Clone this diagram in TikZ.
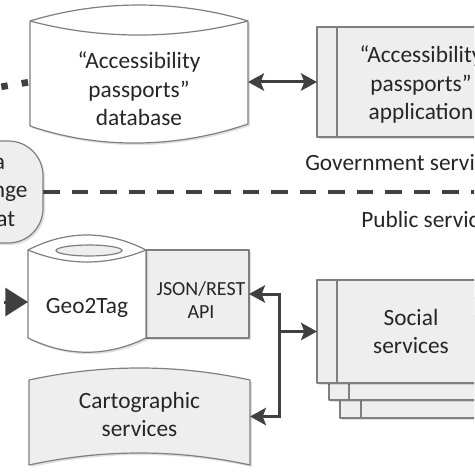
\documentclass[tikz,border=0pt]{standalone}
\usepackage{fontspec}
\setmainfont{Carlito}
\usetikzlibrary{arrows.meta,fit,shadows}
\definecolor{edge}{HTML}{7F7F7F}
\definecolor{boxfill}{HTML}{EEEEEE}
\definecolor{arrowc}{HTML}{404040}
\definecolor{txt}{HTML}{262626}
\begin{document}
\begin{tikzpicture}[x=0.75pt,y=-0.75pt,
  outline/.style={draw=edge, line width=0.9pt, line join=round},
  greybox/.style={outline, fill=boxfill},
  whitebox/.style={outline, fill=white},
  shade/.style={drop shadow={shadow xshift=1.5pt, shadow yshift=-1.5pt, fill=black, opacity=0.12}},
  region/.style={inner sep=0pt, outer sep=0pt, draw=none},
  big/.style={font=\fontsize{17.5pt}{21.4pt}\selectfont, text=txt, align=center, inner sep=0pt},
  smalltxt/.style={font=\fontsize{15pt}{17pt}\selectfont, text=txt, align=center, inner sep=0pt},
  arr/.style={draw=arrowc, line width=2.25pt, -{Stealth[length=12pt,width=13pt,inset=2.5pt]}},
  biarr/.style={draw=arrowc, line width=2.25pt, {Stealth[length=12pt,width=13pt,inset=2.5pt]}-{Stealth[length=12pt,width=13pt,inset=2.5pt]}},
  bigarr/.style={draw=arrowc, line width=2.25pt, -{Triangle[length=17pt,width=21pt]}},
  dotline/.style={draw=arrowc, line width=5pt, dash pattern=on 4.9pt off 10.5pt, shorten <=1.5pt},
  dashline/.style={draw=arrowc, line width=2.4pt, dash pattern=on 12.4pt off 9pt}
]
\useasboundingbox (0,0) rectangle (474,474);
\clip (0,0) rectangle (474,474);

% regions
\node[region, fit={(30,5) (248,143)}] (db) {};
\node[region, fit={(317,27) (505,137)}] (app) {};
\node[region, fit={(-100,141) (43,243)}] (fmt) {};
\node[region, fit={(28,235) (146,352)}] (geo) {};
\node[region, fit={(146,250) (249,338)}] (api) {};
\node[region, fit={(29,368) (250,465)}] (carto) {};
\node[region, fit={(317,280) (505,383)}] (social) {};

% data exchange format
\draw[greybox, shade, rounded corners=26pt] (-100,141) rectangle (43,243);

% database cylinder
\path[whitebox, shade] (30,21) -- (30,126) .. controls (100,150) and (178,148) .. (248,124) -- (248,21) .. controls (178,-0.3) and (100,-0.3) .. (30,21) -- cycle;
\draw[outline] (30,21) .. controls (100,39.7) and (178,39.7) .. (248,21);

% application
\draw[greybox, shade] (317,27) rectangle (505,137);
\draw[outline] (337,27) -- (337,137);

% social stack
\draw[greybox, shade] (340,316) rectangle (505,418);
\draw[outline] (361,316) -- (361,418);
\draw[greybox, shade] (329,298) rectangle (505,400);
\draw[outline] (349,298) -- (349,400);
\draw[greybox, shade] (317,280) rectangle (505,383);
\draw[outline] (337,280) -- (337,383);

% api box
\draw[greybox, shade] (146,250) rectangle (249,338);

% geo2tag cylinder
\path[whitebox, shade] (28,250) -- (28,338) .. controls (67,357) and (107,357) .. (146,338) -- (146,250) .. controls (107,230) and (67,230) .. (28,250) -- cycle;
\draw[outline] (28,250) .. controls (67,266) and (107,266) .. (146,250);
\draw[outline, fill=boxfill] (89,250.5) ellipse [x radius=24.75pt, y radius=4.1pt];

% cartographic
\path[greybox, shade] (29,380) .. controls (103,364) and (176,364) .. (250,380) -- (250,465) .. controls (176,449) and (103,449) .. (29,465) -- cycle;

% texts
\node[big] (dbt) at (139,89) {“Accessibility\\passports”\\database};
\node[big] (appt) at (421,84.5) {“Accessibility\\passports”\\application};
\node[big] (fmtt) at (-17,190.5) {Data\\exchange\\format};
\node[big, anchor=base] (geot) at (87,313) {Geo2Tag};
\node[smalltxt] (apit) at (201,300) {JSON/REST\\API};
\node[big] (cartot) at (139.5,414.5) {Cartographic\\services};
\node[big] (socialt) at (411,331.5) {Social\\services};
\node[big, anchor=base west] (gov) at (305,170) {Government services};
\node[big, anchor=base west] (pub) at (361,227) {Public services};

% connectors
\draw[biarr] (db.east |- app.west) -- (app.west);
\coordinate (dotsrc) at (-30,92);
\draw[dotline] (db.west |- app.west) -- (dotsrc);
\coordinate (dashend) at (480,192);
\draw[dashline] (fmt.east) -- (dashend);
\coordinate (geoin) at (4,302);
\draw[bigarr] (geoin) -- (geoin -| geo.west);
\coordinate (bus) at (279,331.5);
\draw[arr] (bus) -- (social.west);
\draw[arr] (bus) |- (api.east);
\draw[arr] (bus) |- (carto.east);
\end{tikzpicture}
\end{document}
